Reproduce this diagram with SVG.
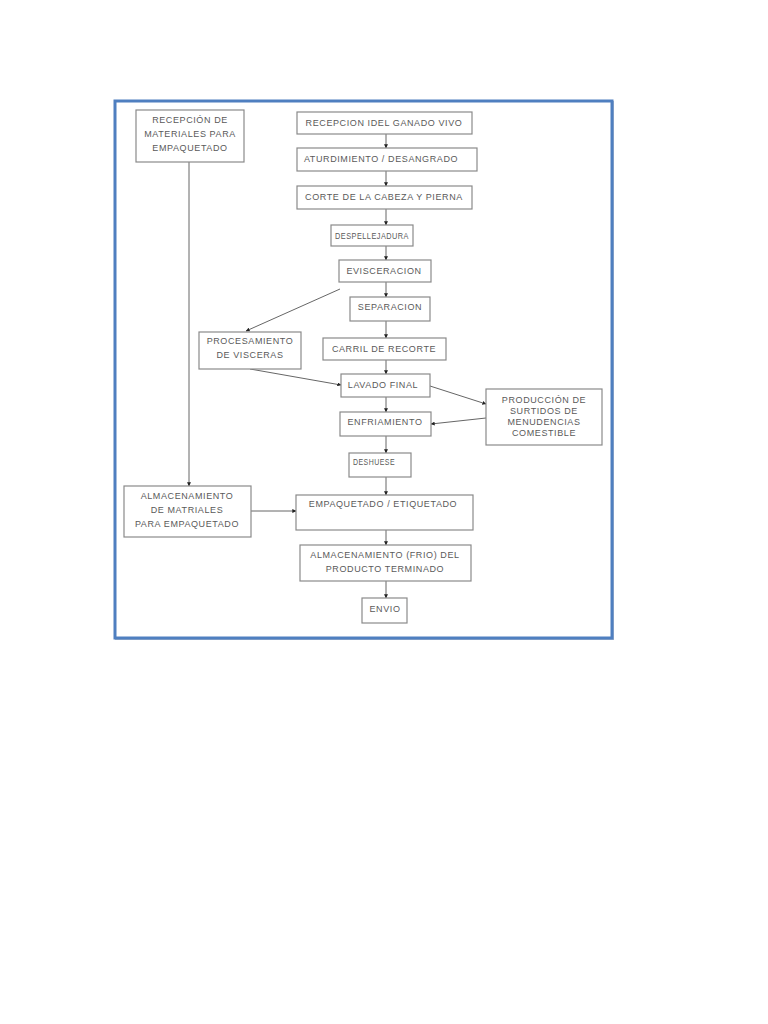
<svg xmlns="http://www.w3.org/2000/svg" width="768" height="1024" viewBox="0 0 768 1024">
<style>
.box{fill:#fff;stroke:#8a8a8a;stroke-width:1.2}
.t{font-family:"Liberation Sans",Arial,sans-serif;font-size:9px;letter-spacing:0.6px;fill:#5a5a5a;text-anchor:middle}
.c{stroke:#666;stroke-width:1;fill:none;marker-end:url(#ah)}
</style>
<defs>
<marker id="ah" viewBox="0 0 6 6" refX="5.5" refY="3" markerWidth="4" markerHeight="4" orient="auto">
<path d="M0,0 L6,3 L0,6 Z" fill="#222"/>
</marker>
</defs>
<rect width="768" height="1024" fill="#fff"/>
<rect x="116" y="102" width="497" height="537" fill="none" stroke="#aab8cc" stroke-width="2"/>
<rect x="115" y="101" width="497" height="537" fill="#fff" stroke="#4f7fc0" stroke-width="3"/>

<g id="connectors">
<line class="c" x1="189" y1="162" x2="189" y2="486"/>
<line class="c" x1="386" y1="134" x2="386" y2="148"/>
<line class="c" x1="386" y1="171" x2="386" y2="186"/>
<line class="c" x1="386" y1="209" x2="386" y2="225"/>
<line class="c" x1="386" y1="246" x2="386" y2="260"/>
<line class="c" x1="386" y1="282" x2="386" y2="297"/>
<line class="c" x1="386" y1="321" x2="386" y2="338"/>
<line class="c" x1="386" y1="360" x2="386" y2="374"/>
<line class="c" x1="386" y1="397" x2="386" y2="412"/>
<line class="c" x1="386" y1="436" x2="386" y2="453"/>
<line class="c" x1="386" y1="477" x2="386" y2="495"/>
<line class="c" x1="386" y1="530" x2="386" y2="545"/>
<line class="c" x1="386" y1="581" x2="386" y2="598"/>
<line class="c" x1="340" y1="289" x2="246" y2="331"/>
<line class="c" x1="250" y1="369" x2="341" y2="385"/>
<line class="c" x1="430" y1="386" x2="486" y2="404"/>
<line class="c" x1="486" y1="418" x2="431" y2="424"/>
<line class="c" x1="251" y1="511" x2="296" y2="511"/>
</g>

<g id="n_recep_mat"><rect class="box" x="136" y="110" width="108" height="52"/>
<text class="t" x="190" y="123">RECEPCIÓN DE</text><text class="t" x="190" y="137">MATERIALES PARA</text><text class="t" x="190" y="151">EMPAQUETADO</text></g>
<g id="n_recep_ganado"><rect class="box" x="297" y="112" width="175" height="22"/>
<text class="t" x="384" y="126">RECEPCION IDEL GANADO VIVO</text></g>
<g id="n_aturd"><rect class="box" x="297" y="148" width="180" height="23"/>
<text class="t" x="381" y="162">ATURDIMIENTO / DESANGRADO</text></g>
<g id="n_corte"><rect class="box" x="297" y="186" width="175" height="23"/>
<text class="t" x="384" y="200">CORTE DE LA CABEZA Y PIERNA</text></g>
<g id="n_despell"><rect class="box" x="331" y="225" width="82" height="21"/>
<text class="t" x="335" y="239" style="text-anchor:start" textLength="74" lengthAdjust="spacingAndGlyphs">DESPELLEJADURA</text></g>
<g id="n_evisc"><rect class="box" x="339" y="260" width="92" height="22"/>
<text class="t" x="384" y="274">EVISCERACION</text></g>
<g id="n_separ"><rect class="box" x="350" y="297" width="80" height="24"/>
<text class="t" x="390" y="310">SEPARACION</text></g>
<g id="n_carril"><rect class="box" x="323" y="338" width="123" height="22"/>
<text class="t" x="384" y="352">CARRIL DE RECORTE</text></g>
<g id="n_proces"><rect class="box" x="199" y="332" width="102" height="37"/>
<text class="t" x="250" y="344">PROCESAMIENTO</text><text class="t" x="250" y="358">DE VISCERAS</text></g>
<g id="n_lavado"><rect class="box" x="341" y="374" width="89" height="23"/>
<text class="t" x="383" y="388">LAVADO FINAL</text></g>
<g id="n_enfri"><rect class="box" x="340" y="412" width="91" height="24"/>
<text class="t" x="385" y="425">ENFRIAMIENTO</text></g>
<g id="n_produc"><rect class="box" x="486" y="389" width="116" height="56"/>
<text class="t" x="544" y="403">PRODUCCIÓN DE</text><text class="t" x="544" y="414">SURTIDOS DE</text><text class="t" x="544" y="425">MENUDENCIAS</text><text class="t" x="544" y="436">COMESTIBLE</text></g>
<g id="n_deshuese"><rect class="box" x="349" y="453" width="62" height="24"/>
<text class="t" x="353" y="465" style="text-anchor:start" textLength="42" lengthAdjust="spacingAndGlyphs">DESHUESE</text></g>
<g id="n_almac_mat"><rect class="box" x="124" y="486" width="127" height="51"/>
<text class="t" x="187" y="499">ALMACENAMIENTO</text><text class="t" x="187" y="513">DE MATRIALES</text><text class="t" x="187" y="527">PARA  EMPAQUETADO</text></g>
<g id="n_empaq"><rect class="box" x="296" y="495" width="177" height="35"/>
<text class="t" x="383" y="507">EMPAQUETADO / ETIQUETADO</text></g>
<g id="n_almac_frio"><rect class="box" x="300" y="545" width="171" height="36"/>
<text class="t" x="385" y="558">ALMACENAMIENTO (FRIO) DEL</text><text class="t" x="385" y="572">PRODUCTO TERMINADO</text></g>
<g id="n_envio"><rect class="box" x="362" y="598" width="45" height="25"/>
<text class="t" x="385" y="612">ENVIO</text></g>
</svg>
